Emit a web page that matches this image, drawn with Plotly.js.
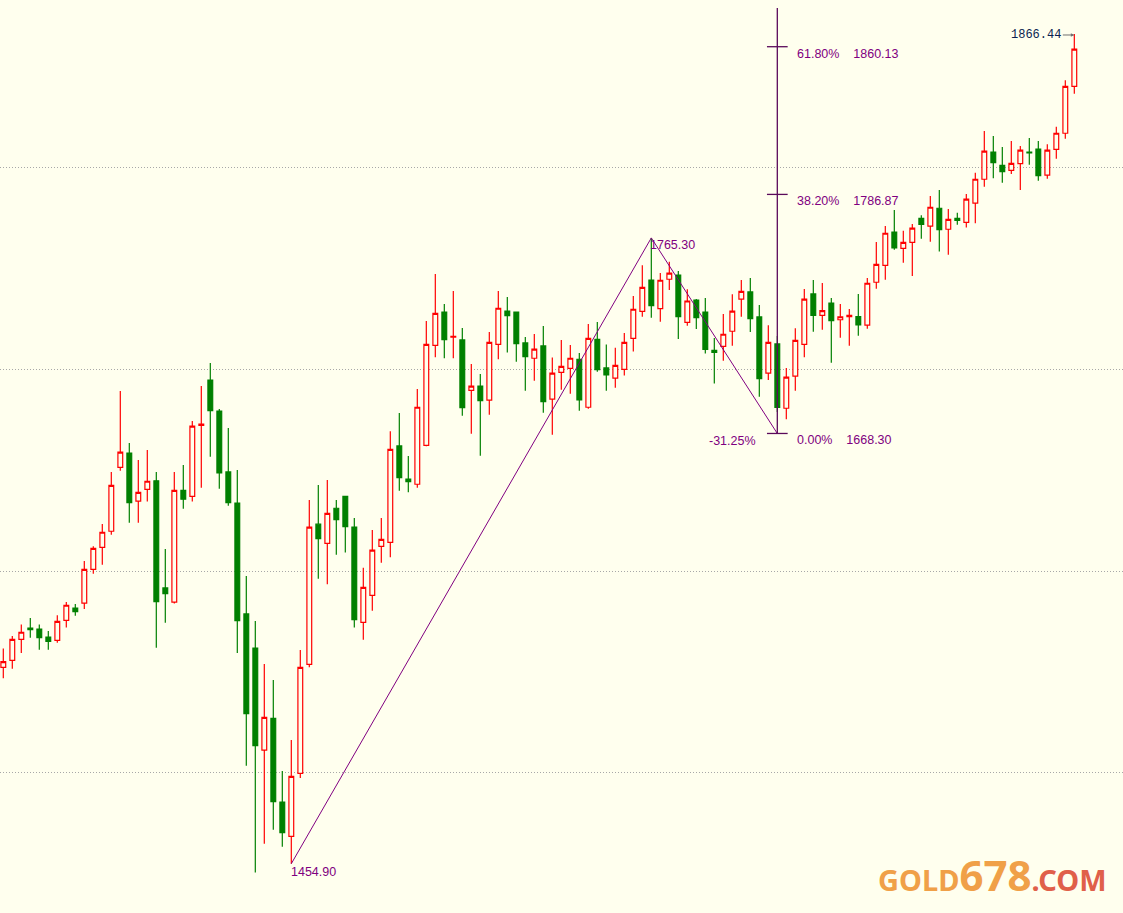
<!DOCTYPE html>
<html>
<head>
<meta charset="utf-8">
<script src="https://cdn.plot.ly/plotly-3.0.1.min.js"></script>
<style>
  html, body { margin: 0; padding: 0; background: #FFFFEE; }
  #chart { width: 1123px; height: 913px; }
</style>
</head>
<body>
<div id="chart"></div>
<script>
// ---- candle data ----
const openP = [1552.3,1555.8,1566.2,1571.8,1571.3,1567.3,1565.7,1575.6,1581.7,1584.1,
1600.9,1611.8,1619.8,1651.5,1658.6,1634.7,1640.6,1644.8,1591.7,1584.6,
1640.1,1637.1,1672.3,1694.8,1679.4,1649.2,1633.8,1578.8,1561.9,1511.2,
1527.0,1485.5,1468.5,1499.7,1553.8,1623.3,1613.8,1631.2,1637.1,1621.9,
1574.6,1588.0,1612.3,1614.3,1662.1,1645.7,1643.1,1662.4,1712.0,1728.5,
1716.1,1714.7,1689.7,1691.8,1684.8,1712.5,1729.0,1728.5,1713.2,1705.6,
1711.7,1685.3,1698.6,1700.6,1705.1,1681.3,1715.0,1700.8,1695.7,1700.1,
1715.5,1728.9,1744.4,1730.2,1744.8,1746.9,1723.4,1734.5,1728.5,1709.5,
1711.5,1719.0,1734.9,1738.5,1726.1,1698.2,1712.7,1680.8,1696.7,1712.5,
1737.5,1726.9,1733.0,1724.7,1726.2,1726.3,1722.0,1743.3,1751.7,1768.2,
1760.1,1763.1,1775.0,1771.1,1780.0,1769.6,1775.0,1773.0,1782.5,1794.4,
1807.9,1801.3,1798.8,1802.1,1807.8,1809.4,1796.4,1809.2,1817.2,1840.5];

const highP = [1561.7,1567.8,1573.6,1576.8,1573.6,1570.3,1578.1,1584.7,1583.7,1605.0,
1612.3,1623.4,1649.2,1689.4,1663.6,1655.1,1660.1,1649.2,1611.0,1649.2,
1652.7,1674.5,1691.8,1703.3,1680.4,1671.0,1650.2,1597.6,1575.3,1554.0,
1546.0,1500.9,1516.3,1560.9,1635.3,1642.7,1645.2,1635.3,1637.3,1626.4,
1601.7,1620.4,1626.4,1669.4,1678.5,1657.1,1690.4,1724.1,1747.4,1732.5,
1739.0,1720.6,1702.8,1697.8,1718.6,1739.0,1736.0,1728.6,1716.1,1717.6,
1721.6,1706.0,1714.7,1712.2,1708.2,1722.6,1723.6,1712.4,1710.8,1718.1,
1736.5,1751.7,1765.3,1747.9,1753.5,1748.9,1739.8,1735.0,1735.5,1715.7,
1727.6,1737.3,1744.4,1745.4,1732.0,1722.0,1716.6,1700.8,1720.5,1740.0,
1744.4,1742.9,1735.5,1732.5,1730.0,1737.5,1745.4,1763.3,1771.2,1779.1,
1768.9,1772.2,1776.5,1786.1,1789.1,1779.6,1777.8,1787.1,1797.6,1818.3,
1815.8,1810.4,1813.4,1810.9,1814.9,1813.4,1811.7,1820.4,1843.5,1866.44];

const lowP = [1546.9,1551.6,1559.4,1567.0,1561.0,1561.0,1564.5,1572.0,1577.9,1581.2,
1598.7,1603.2,1618.1,1649.8,1624.0,1624.0,1634.5,1562.0,1574.4,1584.0,
1631.0,1634.5,1641.4,1656.8,1640.9,1632.5,1559.4,1503.5,1450.6,1464.8,
1471.8,1463.3,1454.9,1497.4,1552.3,1596.3,1593.5,1608.2,1609.2,1572.0,
1566.0,1580.4,1604.2,1606.9,1639.9,1639.2,1641.4,1662.0,1706.1,1705.6,
1705.6,1677.1,1668.2,1657.3,1677.6,1705.1,1708.4,1703.9,1689.5,1694.5,
1678.6,1667.7,1690.0,1688.0,1679.6,1680.6,1698.9,1689.5,1691.0,1697.0,
1708.9,1726.2,1725.7,1723.7,1739.5,1715.2,1721.7,1720.1,1708.0,1693.1,
1704.4,1711.8,1726.2,1718.6,1686.5,1694.8,1679.0,1675.3,1689.5,1706.1,
1718.8,1719.8,1703.4,1715.8,1711.8,1716.8,1720.3,1740.1,1744.6,1759.4,
1753.0,1746.4,1764.9,1763.4,1758.5,1756.9,1771.8,1770.4,1772.6,1790.7,
1794.9,1792.7,1797.0,1789.1,1801.6,1793.7,1794.7,1804.6,1814.5,1836.8];

const closeP = [1555.1,1566.2,1569.7,1571.0,1567.0,1565.2,1575.1,1583.1,1579.9,1600.9,
1611.3,1619.3,1642.6,1659.0,1634.0,1639.1,1644.6,1584.9,1588.8,1640.1,
1635.7,1671.9,1673.0,1679.6,1648.8,1634.0,1575.4,1529.3,1513.4,1527.5,
1485.7,1470.3,1498.2,1552.3,1621.8,1616.1,1628.7,1625.5,1622.1,1575.9,
1592.0,1610.4,1615.8,1660.4,1646.4,1644.4,1681.3,1712.5,1727.9,1714.8,
1716.5,1681.1,1691.8,1684.6,1713.5,1730.4,1726.7,1712.8,1706.4,1710.1,
1684.1,1698.2,1701.6,1705.6,1685.0,1715.5,1699.9,1697.4,1702.1,1713.5,
1729.9,1740.8,1731.7,1744.3,1747.8,1726.2,1734.0,1725.7,1710.0,1708.5,
1717.5,1729.0,1738.8,1725.2,1695.5,1713.5,1681.2,1696.2,1714.5,1734.9,
1726.9,1729.2,1724.2,1726.2,1726.9,1722.2,1742.8,1752.2,1767.6,1760.4,
1763.1,1770.1,1772.0,1780.5,1769.4,1774.5,1774.0,1784.5,1794.4,1808.3,
1802.6,1798.1,1802.3,1808.8,1807.4,1796.2,1808.8,1817.2,1840.5,1858.9];

// ---- zigzag and fibonacci tool ----
const zigIdx = [32, 72, 86];
const zigVal = [1454.90, 1765.30, 1668.30];
const zigLabels = ['1454.90', '1765.30', '1668.30'];
const fibIdx = 86;
const fibTop = 1879.3;
const fibLevels = [1860.13, 1786.87, 1668.30];
const fibPct = ['61.80%', '38.20%', '0.00%'];
const extraPct = '-31.25%';
const lastPriceLabel = '1866.44';

// ---- build ----
const BG = '#FFFFEE';
const PURPLE = '#800080';
const FIBC = '#5A0A5A';
const xIdx = openP.map((_, i) => i);
const lastIdx = xIdx[xIdx.length - 1];

const traces = [];
traces.push({
  type: 'candlestick',
  x: xIdx, open: openP, high: highP, low: lowP, close: closeP,
  increasing: { line: { color: '#FF0000', width: 1.2 }, fillcolor: BG },
  decreasing: { line: { color: '#008000', width: 1.2 }, fillcolor: '#008000' },
  whiskerwidth: 0,
  hoverinfo: 'skip',
  showlegend: false
});
traces.push({
  type: 'scatter', mode: 'lines', x: zigIdx, y: zigVal,
  line: { color: PURPLE, width: 1 }, hoverinfo: 'skip', showlegend: false
});
// fib vertical line
traces.push({
  type: 'scatter', mode: 'lines',
  x: [fibIdx, fibIdx], y: [fibLevels[fibLevels.length - 1], fibTop],
  line: { color: FIBC, width: 1.3 }, hoverinfo: 'skip', showlegend: false
});
// fib ticks
const tx = [], ty = [];
fibLevels.forEach(v => { tx.push(fibIdx - 1.15, fibIdx + 1.15, null); ty.push(v, v, null); });
traces.push({
  type: 'scatter', mode: 'lines', x: tx, y: ty,
  line: { color: FIBC, width: 1.3 }, hoverinfo: 'skip', showlegend: false
});

const labFont = { family: 'Liberation Sans, Arial, sans-serif', size: 12.5, color: PURPLE };
const ann = [];
const nb = '\u00a0\u00a0\u00a0\u00a0';
fibLevels.forEach((v, i) => {
  ann.push({
    xref: 'x', yref: 'y', x: fibIdx, y: v, xanchor: 'left', yanchor: 'top',
    xshift: 18, yshift: 2, showarrow: false,
    text: fibPct[i] + nb + v.toFixed(2), font: labFont
  });
});
ann.push({
  xref: 'x', yref: 'y', x: fibIdx, y: fibLevels[fibLevels.length - 1],
  xanchor: 'right', yanchor: 'top', xshift: -19, yshift: 1, showarrow: false,
  text: extraPct, font: labFont
});
ann.push({
  xref: 'x', yref: 'y', x: zigIdx[0], y: zigVal[0], xanchor: 'left', yanchor: 'top',
  xshift: -2, yshift: 1, showarrow: false, text: zigLabels[0], font: labFont
});
ann.push({
  xref: 'x', yref: 'y', x: zigIdx[1], y: zigVal[1], xanchor: 'left', yanchor: 'top',
  xshift: -3, yshift: 2, showarrow: false, text: zigLabels[1], font: labFont
});
ann.push({
  xref: 'x', yref: 'y', x: lastIdx, y: highP[lastIdx],
  ax: -38, ay: 0, axref: 'pixel', ayref: 'pixel', yshift: -1,
  showarrow: true, arrowhead: 2, arrowsize: 0.7, arrowwidth: 1, arrowcolor: '#707070',
  standoff: 0, startstandoff: 0,
  text: lastPriceLabel,
  font: { family: 'Liberation Mono, Courier New, monospace', size: 12, color: '#0A1E50' }
});
ann.push({
  xref: 'paper', yref: 'paper', x: 1108 / 1123, y: 1 - 874 / 913,
  xanchor: 'right', yanchor: 'middle', showarrow: false,
  text: '<b><span style="font-size:29px">GOLD</span><span style="font-size:42px">678</span>' +
        '<span style="color:#E0604A;font-size:29px">.COM</span></b>',
  font: { family: 'Noto Sans, Open Sans, sans-serif', size: 29, color: '#F0A048' }
});

const layout = {
  width: 1123, height: 913,
  margin: { l: 0, r: 0, t: 0, b: 0, pad: 0 },
  paper_bgcolor: BG, plot_bgcolor: BG,
  showlegend: false,
  xaxis: {
    range: [-0.367, 124.41], showgrid: false, zeroline: false,
    showticklabels: false, ticks: '', showline: false,
    rangeslider: { visible: false }, fixedrange: true
  },
  yaxis: {
    range: [1430.45, 1883.3], showgrid: true, gridcolor: '#A8A8A8', gridwidth: 1,
    griddash: '1px,2px', tick0: 1500, dtick: 100, zeroline: false,
    showticklabels: false, ticks: '', showline: false, fixedrange: true
  },
  boxgap: 0.24,
  annotations: ann
};

Plotly.newPlot('chart', traces, layout, { displayModeBar: false, staticPlot: true });
</script>
</body>
</html>
